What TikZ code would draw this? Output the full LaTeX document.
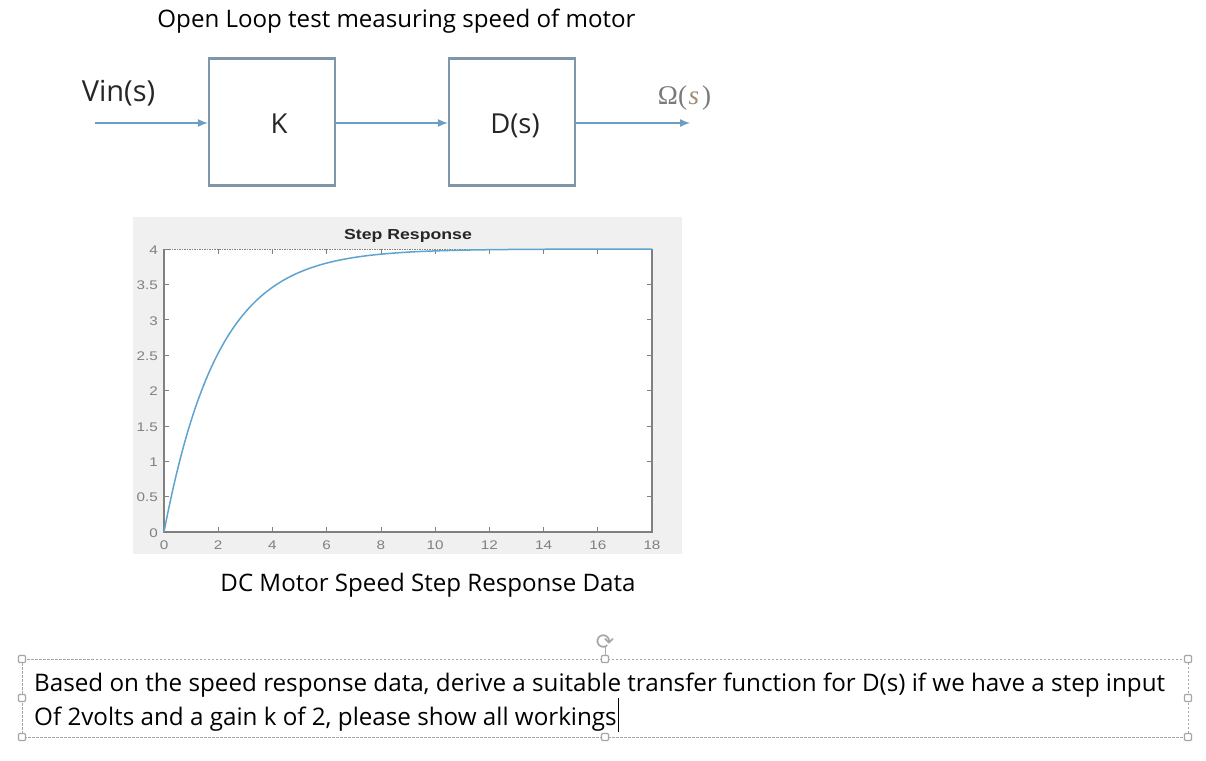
\documentclass[tikz,border=0pt]{standalone}
\usepackage{fontspec}
\setmainfont{Open Sans}
\newfontfamily\plotfont[FakeStretch=1.22]{Liberation Sans}
\newfontfamily\omegafont{Liberation Serif}
\usetikzlibrary{arrows.meta}
\definecolor{wire}{HTML}{6C9DC4}
\definecolor{boxc}{HTML}{7F97A8}
\definecolor{curvec}{HTML}{5FA3D0}
\definecolor{panel}{HTML}{F0F0F0}
\definecolor{axisc}{HTML}{808080}
\definecolor{tickc}{HTML}{808080}
\definecolor{handlec}{HTML}{A6A6A6}
\definecolor{omegac}{HTML}{7A7A7A}
\definecolor{esc}{HTML}{A08C78}
\tikzset{
  blockbox/.style={draw=boxc,line width=2.2pt,fill=white,minimum width=126pt,minimum height=127pt,inner sep=0pt,font=\fontsize{27.5}{30}\selectfont,text=black!85},
  wirearrow/.style={draw=wire,line width=1.4pt,-{Latex[length=10pt,width=8pt]}},
  caption/.style={font=\fontsize{24.1}{30}\selectfont,text=black,inner sep=0pt,anchor=base},
  ticklab/.style={font=\plotfont\fontsize{12.5}{14}\selectfont,text=tickc,inner sep=0pt},
  tickmark/.style={draw=tickc,line width=0.7pt},
  handle/.style={draw=handlec,line width=1.2pt,fill=white,minimum size=7pt,inner sep=0pt,rounded corners=1pt},
  selline/.style={draw=handlec,line width=0.9pt,dash pattern=on 2.5pt off 1.5pt},
  bodytext/.style={font=\fontsize{24.2}{30}\selectfont,text=black,inner sep=0pt,anchor=base west},
}
\begin{document}
\begin{tikzpicture}[x=1pt,y=-1pt]
\useasboundingbox[fill=white] (0,0) rectangle (1206,760);
% title
\node[caption] (title) at (396.5,28) {Open Loop test measuring speed of motor};
% block diagram
\node[blockbox] (k) at (272,122) {\hspace{14pt}\raisebox{-11.5pt}[0pt][0pt]{K}};
\node[blockbox] (d) at (512,122) {\hspace{6pt}\raisebox{-11.5pt}[0pt][0pt]{D(s)}};
\coordinate (in) at (95,123);
\coordinate (out) at (690,123);
\node[font=\fontsize{29}{30}\selectfont,text=black!85,inner sep=0pt,anchor=base] (vin) at (118.5,101) {Vin(s)};
\node[font=\omegafont\fontsize{27}{28}\selectfont,text=omegac,inner sep=0pt,anchor=base] (om) at (684.5,104) {Ω(\kern1.5pt\textcolor{esc}{\textit{s}}\kern3pt)};
\draw[wirearrow] (in) -- (in -| k.west);
\draw[wirearrow] (k.east |- in) -- (d.west |- in);
\draw[wirearrow] (d.east |- in) -- (out);
% step response chart
\fill[panel] (133,217) rectangle (682,554);
\fill[white] (164,249) rectangle (652,532);
\node[font=\plotfont\bfseries\fontsize{14.5}{16}\selectfont,text=black!85,inner sep=0pt,anchor=base] (st) at (408,239) {Step Response};
\foreach \t in {0,2,...,18}{
  \pgfmathsetmacro{\xx}{164+\t*27.11}
  \draw[tickmark] (\xx,532) -- (\xx,527);
  \draw[tickmark] (\xx,249) -- (\xx,254);
  \node[ticklab] at (\xx,545) {\t};
}
\foreach \v/\lab in {0/0,0.5/0.5,1/1,1.5/1.5,2/2,2.5/2.5,3/3,3.5/3.5,4/4}{
  \pgfmathsetmacro{\yy}{532-\v*70.75}
  \draw[tickmark] (164,\yy) -- (169,\yy);
  \draw[tickmark] (652,\yy) -- (647,\yy);
  \node[ticklab,anchor=east] at (158,\yy+1) {\lab};
}
\draw[axisc,line width=1.1pt] (164,249) -- (164,532) -- (652,532) -- (652,249);
\draw[axisc,line width=0.8pt,dash pattern=on 1.5pt off 1pt] (164,249) -- (652,249);
\draw[curvec,line width=1.5pt,smooth] plot[domain=0:18,samples=120] ({164+\x*27.11},{532-283*(1-exp(-\x/2))});
\node[caption] (cap) at (428,591) {DC Motor Speed Step Response Data};
% selected text box
\draw[selline] (22,659) rectangle (1188,737);
\draw[draw=handlec,line width=1pt] (605,659) -- (605,647);
\node[font=\fontsize{22}{22}\selectfont,text=handlec,inner sep=0pt] (rot) at (605,642) {\fontspec{DejaVu Sans}⟳};
\foreach \n/\x/\y in {h1/22/659,h2/605/659,h3/1188/659,h4/22/698,h5/1188/698,h6/22/737,h7/605/737,h8/1188/737}{
  \node[handle] (\n) at (\x,\y) {};
}
\node[bodytext] (l1) at (34,691) {Based on the speed response data, derive a suitable transfer function for D(s) if we have a step input};
\node[bodytext] (l2) at (34,725) {Of 2volts and a gain k of 2, please show all workings};
\draw[black,line width=1pt] (618.5,698) -- (618.5,732);
\end{tikzpicture}
\end{document}
